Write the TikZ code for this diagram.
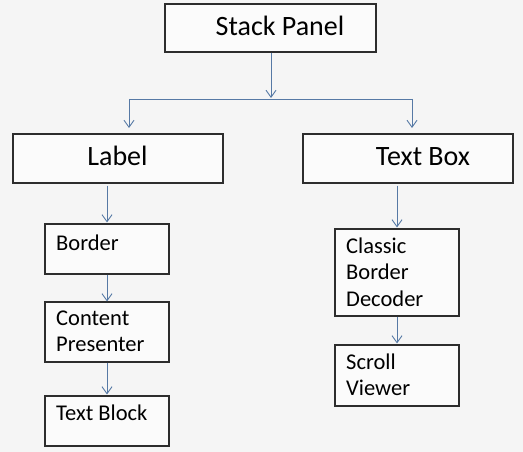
\documentclass[tikz,border=0pt]{standalone}
\usepackage{fontspec}
\setmainfont{Carlito}
\usetikzlibrary{arrows.meta}
\definecolor{bgc}{RGB}{245,245,245}
\definecolor{boxc}{RGB}{45,45,45}
\definecolor{arrc}{RGB}{86,121,165}
\tikzset{
  box/.style={draw=boxc, line width=1.1pt, inner sep=0pt, fill=white!60!bgc},
  bigtxt/.style={inner sep=0pt, anchor=base, font=\fontsize{28}{34}\selectfont},
  smalltxt/.style={inner sep=0pt, anchor=base west, align=left, font=\fontsize{22.5}{26.7}\selectfont},
  conn/.style={draw=arrc, line width=0.9pt},
  arr/.style={conn, -{Straight Barb[length=7pt,width=10pt,line width=0.9pt]}}
}
\begin{document}
\begin{tikzpicture}[x=1pt,y=-1pt]
\fill[bgc] (0,0) rectangle (523,452);
\useasboundingbox (0,0) rectangle (523,452);
% boxes
\node[box, minimum width=211pt, minimum height=48pt] (sp) at (270.5,28) {};
\node[box, minimum width=210pt, minimum height=49pt] (lab) at (118,158.5) {};
\node[box, minimum width=210pt, minimum height=49pt] (tbx) at (408,158.5) {};
\node[box, minimum width=124pt, minimum height=50pt] (bor) at (107,249) {};
\node[box, minimum width=124pt, minimum height=60pt] (cp) at (107,332) {};
\node[box, minimum width=124pt, minimum height=50pt] (tbl) at (107,421) {};
\node[box, minimum width=124pt, minimum height=87pt] (cbd) at (397,272.5) {};
\node[box, minimum width=124pt, minimum height=61pt] (sv) at (397,375.5) {};
% texts (base = baseline of last line)
\node[bigtxt] (spt) at (280,36) {Stack Panel};
\node[bigtxt] (labt) at (117.5,166) {Label};
\node[bigtxt] (tbxt) at (423,166) {Text Box};
\node[smalltxt] (bort) at (56,251) {Border};
\node[smalltxt] (cpt) at (56,351.7) {Content\\Presenter};
\node[smalltxt] (tblt) at (56,420) {Text Block};
\node[smalltxt] (cbdt) at (346,306.4) {Classic\\Border\\Decoder};
\node[smalltxt] (svt) at (346,395.7) {Scroll\\Viewer};
% connectors
\coordinate (j) at (271,98);
\coordinate (jl) at (129,99);
\coordinate (jr) at (412,99);
\coordinate (jlt) at (129,128);
\coordinate (jrt) at (412,128);
\draw[arr] (sp.south -| j) -- (j);
\draw[conn] (jl) -- (jr);
\draw[arr] (jl) -- (jlt);
\draw[arr] (jr) -- (jrt);
\draw[arr] ([yshift=-2pt]lab.south -| bor.north) -- ([yshift=1pt]bor.north);
\draw[arr] (bor.south) -- (cp.north);
\draw[arr] (cp.south) -- ([yshift=1pt]tbl.north);
\draw[arr] ([yshift=-2pt]tbx.south -| cbd.north) -- ([yshift=1pt]cbd.north);
\draw[arr] (cbd.south) -- ([yshift=1pt]sv.north);
\end{tikzpicture}
\end{document}
